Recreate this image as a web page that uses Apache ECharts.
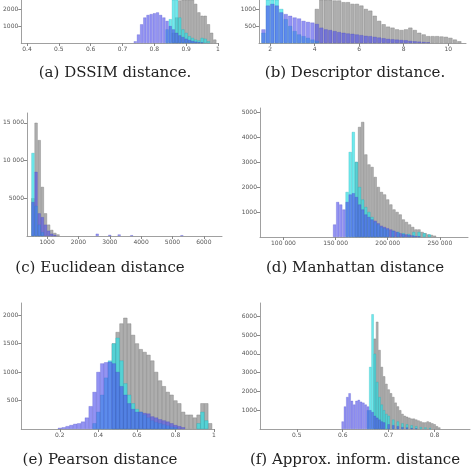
<!DOCTYPE html><html><head><meta charset="utf-8">
<script src="https://cdn.jsdelivr.net/npm/echarts@6/dist/echarts.min.js"></script>
<style>html,body{margin:0;background:#fff}#c{width:474px;height:474px}</style></head><body><div id="c"></div><script>
// (a) DSSIM
const aBlueX=[0.74,0.75,0.76,0.77,0.78,0.79,0.80,0.81,0.82,0.83,0.84,0.85,0.86,0.87,0.88,0.89,0.90,0.91,0.92,0.93,0.94,0.95];
const aBlueY=[100,500,1100,1500,1650,1700,1750,1800,1650,1500,1300,1000,800,600,450,350,250,180,120,80,50,30];
const aCyanX=[0.84,0.85,0.86,0.87,0.88,0.89,0.90,0.91,0.92,0.93,0.94,0.95,0.96,0.97];
const aCyanY=[800,1400,2800,3000,1500,800,600,400,300,200,150,300,250,100];
const aGrayX=[0.86,0.87,0.88,0.89,0.90,0.91,0.92,0.93,0.94,0.95,0.96,0.97,0.98,0.99];
const aGrayY=[600,1500,2500,3000,3000,3000,2700,2300,1800,1600,1600,1100,600,200];
// (b) Descriptor
const bBlueX=[1.7,1.9,2.1,2.3,2.5,2.7,2.9,3.1,3.3,3.5,3.7,3.9,4.1,4.3,4.5,4.7,4.9,5.1,5.3,5.5,5.7,5.9,6.1,6.3,6.5,6.7,6.9,7.1,7.3,7.5,7.7,7.9,8.1,8.3,8.5,8.7,8.9,9.1];
const bBlueY=[400,1100,1150,1100,900,850,800,750,720,650,620,600,560,450,400,380,350,320,300,280,270,250,230,210,200,180,160,140,120,110,100,90,80,60,50,40,30,20];
const bCyanX=[1.7,1.9,2.1,2.3,2.5,2.7,2.9,3.1,3.3,3.5,3.7,3.9,4.1];
const bCyanY=[300,1300,1300,1300,1000,700,500,350,250,200,150,100,60];
const bGrayX=[4.1,4.3,4.5,4.7,4.9,5.1,5.3,5.5,5.7,5.9,6.1,6.3,6.5,6.7,6.9,7.1,7.3,7.5,7.7,7.9,8.1,8.3,8.5,8.7,8.9,9.1,9.3,9.5,9.7,9.9,10.1,10.3,10.5];
const bGrayY=[1000,1300,1300,1300,1250,1250,1200,1200,1150,1150,1100,1000,950,800,650,550,480,450,400,380,400,450,380,300,250,200,200,200,190,180,150,100,50];
// (c) Euclidean
const cBlueX=[550,650,750,850,950,1050,1150,1250,2600,3000,3300,3700,5300];
const cBlueY=[4500,8500,3000,2500,1500,700,300,150,300,150,200,100,100];
const cCyanX=[550,650,750,850];
const cCyanY=[11000,4000,1500,500];
const cGrayX=[550,650,750,850,950,1050,1150,1250,1350];
const cGrayY=[5000,15000,12700,6500,3000,1500,800,400,200];
// (d) Manhattan
const dBlueX=[149e3,152e3,155e3,158e3,161e3,164e3,167e3,170e3,173e3,176e3,179e3,182e3,185e3,188e3,191e3,194e3,197e3,200e3,203e3,206e3,209e3,212e3,215e3,218e3,221e3,224e3,227e3,230e3];
const dBlueY=[500,1400,1300,1100,1400,1700,1750,1600,1300,1100,900,800,700,650,550,450,400,350,300,250,200,150,120,100,80,60,40,30];
const dCyanX=[161e3,164e3,167e3,170e3,173e3,176e3,179e3,182e3,185e3,188e3,191e3,194e3,197e3,200e3,205e3,210e3,215e3,220e3,225e3,230e3,235e3,240e3];
const dCyanY=[1800,3400,4200,3000,2000,1500,1200,1000,800,600,500,400,350,300,250,200,150,120,200,200,150,100];
const dGrayX=[170e3,173e3,176e3,179e3,182e3,185e3,188e3,191e3,194e3,197e3,200e3,203e3,206e3,209e3,212e3,215e3,218e3,221e3,224e3,227e3,230e3,233e3,236e3,239e3,242e3,245e3];
const dGrayY=[3000,4400,4600,3300,2900,2800,2400,2000,1800,1700,1500,1300,1100,1000,900,700,600,500,400,300,300,200,150,100,80,50];
// (e) Pearson
const eBlueX=[0.20,0.22,0.24,0.26,0.28,0.30,0.32,0.34,0.36,0.38,0.40,0.42,0.44,0.46,0.48,0.50,0.52,0.54,0.56,0.58,0.60,0.62,0.64,0.66,0.68,0.70,0.72,0.74,0.76,0.78,0.80,0.82,0.84];
const eBlueY=[20,30,50,70,90,100,130,200,400,650,1000,1150,1170,1180,1150,1000,750,600,450,350,300,300,280,270,220,200,170,150,130,100,70,50,30];
const eCyanX=[0.38,0.40,0.42,0.44,0.46,0.48,0.50,0.52,0.54,0.56,0.58,0.60,0.62,0.64,0.66,0.68,0.70,0.72,0.74,0.76,0.78,0.80,0.92,0.94,0.96];
const eCyanY=[100,300,600,900,1200,1500,1600,1200,800,600,450,350,300,250,200,150,120,100,80,60,40,30,100,300,150];
const eGrayX=[0.48,0.50,0.52,0.54,0.56,0.58,0.60,0.62,0.64,0.66,0.68,0.70,0.72,0.74,0.76,0.78,0.80,0.82,0.84,0.86,0.88,0.90,0.92,0.94,0.96,0.98];
const eGrayY=[1500,1700,1850,1950,1850,1650,1500,1400,1350,1300,1200,1000,850,750,650,600,500,450,300,250,250,200,250,450,450,100];
// (f) Approx. inform.
const fBlueX=[0.600,0.605,0.610,0.615,0.620,0.625,0.630,0.635,0.640,0.645,0.650,0.655,0.660,0.665,0.670,0.675,0.680,0.685,0.690,0.700,0.710,0.720,0.730,0.740,0.750,0.760];
const fBlueY=[400,1200,1700,1900,1500,1300,1500,1550,1450,1400,1300,1200,1000,900,700,600,500,400,350,250,200,150,100,80,50,30];
const fCyanX=[0.655,0.660,0.665,0.670,0.675,0.680,0.685,0.690,0.695,0.700,0.710,0.720,0.730,0.740,0.750,0.760,0.770,0.780,0.790];
const fCyanY=[1000,3300,6100,4000,2500,1700,1300,1000,800,700,500,400,300,250,200,150,100,80,50];
const fGrayX=[0.670,0.675,0.680,0.685,0.690,0.695,0.700,0.705,0.710,0.715,0.720,0.725,0.730,0.735,0.740,0.745,0.750,0.755,0.760,0.765,0.770,0.775,0.780,0.785,0.790,0.795,0.800,0.805,0.810];
const fGrayY=[4800,5700,4200,3300,2800,2400,2100,1900,1700,1400,1200,1000,800,700,650,600,550,550,500,450,400,350,350,400,350,300,250,150,80];

const captions=["(a) DSSIM distance.","(b) Descriptor distance.","(c) Euclidean distance","(d) Manhattan distance","(e) Pearson distance","(f) Approx. inform. distance"];
const panels=[
 {g:[14,0,204,43],x:[0.382,1.0],y:2530,xt:[0.4,0.5,0.6,0.7,0.8,0.9,1.0],yt:[1000,2000],bw:3,d:[[aGrayX,aGrayY],[aCyanX,aCyanY],[aBlueX,aBlueY]],cap:[115,73]},
 {g:[259,0,207,43],x:[1.5,10.8],y:1265,xt:[2,4,6,8,10],yt:[500,1000],bw:4,d:[[bGrayX,bGrayY],[bCyanX,bCyanY],[bBlueX,bBlueY]],cap:[355,73]},
 {g:[17,113,205,123],x:[360,6580],y:16300,xt:[1000,2000,3000,4000,5000,6000],yt:[5000,10000,15000],bw:3,d:[[cGrayX,cGrayY],[cCyanX,cCyanY],[cBlueX,cBlueY]],cap:[100,268]},
 {g:[260,108,208,129],x:[77500,277000],y:5160,xt:[100000,150000,200000,250000],yt:[1000,2000,3000,4000,5000],bw:3,d:[[dGrayX,dGrayY],[dCyanX,dCyanY],[dBlueX,dBlueY]],cap:[355,268]},
 {g:[13,303,201,126],x:[0,1.0],y:2210,xt:[0.2,0.4,0.6,0.8,1.0],yt:[500,1000,1500,2000],bw:4,d:[[eGrayX,eGrayY],[eCyanX,eCyanY],[eBlueX,eBlueY]],cap:[100,460]},
 {g:[260,303,210,126],x:[0.42,0.877],y:6700,xt:[0.5,0.6,0.7,0.8],yt:[1000,2000,3000,4000,5000,6000],bw:2.3,d:[[fGrayX,fGrayY],[fCyanX,fCyanY],[fBlueX,fBlueY]],cap:[355,460]}
];
const cols=[{c:'rgba(165,165,165,0.9)',b:'#7a7a7a'},{c:'rgba(50,225,230,0.7)',b:'rgba(20,170,180,0.7)'},{c:'rgba(80,80,235,0.62)',b:'rgba(60,60,190,0.6)'}];
const grid=[],xAxis=[],yAxis=[],series=[],graphic=[];
const fmt=v=>{if(v>=10000){return String(v).replace(/(\d)(?=(\d{3})+$)/g,'$1 ');}return String(v);};
panels.forEach((p,i)=>{
 grid.push({left:p.g[0],top:p.g[1],width:p.g[2],height:p.g[3]});
 const lab={fontSize:6,color:'#555',fontFamily:'DejaVu Sans'};
 const line={lineStyle:{color:'#888',width:0.8}};
 xAxis.push({type:'value',gridIndex:i,min:p.x[0],max:p.x[1],axisLine:line,splitLine:{show:false},
  axisTick:{customValues:p.xt,length:3,lineStyle:{color:'#888'}},axisLabel:Object.assign({customValues:p.xt,formatter:fmt,margin:3},lab)});
 yAxis.push({type:'value',gridIndex:i,min:0,max:p.y,axisLine:Object.assign({show:true},line),splitLine:{show:false},
  axisTick:{show:true,customValues:p.yt,length:3,lineStyle:{color:'#888'}},axisLabel:Object.assign({customValues:p.yt,formatter:fmt,margin:3},lab)});
 p.d.forEach((s,k)=>{
  series.push({type:'bar',xAxisIndex:i,yAxisIndex:i,barWidth:p.bw,barGap:'-100%',silent:true,
   itemStyle:{color:cols[k].c,borderColor:cols[k].b,borderWidth:0.4},
   data:s[0].map((x,j)=>[x,s[1][j]])});
 });
 graphic.push({type:'text',x:p.cap[0],y:p.cap[1],style:{text:captions[i],fontFamily:'DejaVu Serif',fontSize:15,fill:'#222',textAlign:'center',textVerticalAlign:'middle'}});
});
const ch=echarts.init(document.getElementById('c'));
ch.setOption({animation:false,grid,xAxis,yAxis,series,graphic});
</script></body></html>
